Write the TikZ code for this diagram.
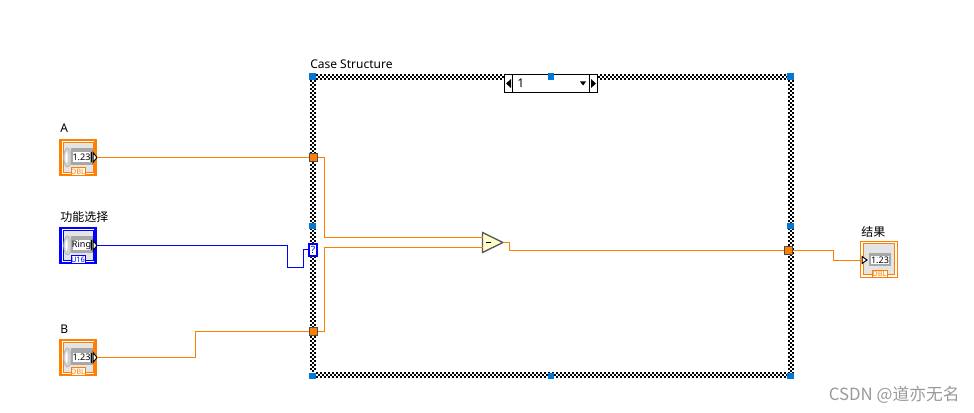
\documentclass[tikz,border=0pt]{standalone}
\usepackage{fontspec}
\setmainfont{Noto Sans}
\newfontfamily\cjk{Noto Sans CJK SC}
\definecolor{wireor}{HTML}{FF8000}
\definecolor{handle}{HTML}{0078D7}
\definecolor{panel}{HTML}{E4E4E4}
\definecolor{bezel}{HTML}{A8A8A8}
\definecolor{triangle}{HTML}{FFFFCC}
\definecolor{wmark}{HTML}{9A9A9A}
\tikzset{
  x=0.75pt,y=-0.75pt,
  lab/.style={anchor=west,inner sep=0pt,font=\fontsize{9}{11}\selectfont,text=black},
  cjklab/.style={anchor=west,inner sep=0pt,font=\cjk\fontsize{9}{11}\selectfont,text=black},
  termbox/.style={minimum width=28.5pt,minimum height=28.5pt,inner sep=0pt,outer sep=0pt},
  tunnel/.style={draw=black!70,line width=0.75pt,fill=wireor,minimum size=6.4pt,inner sep=0pt,outer sep=0pt},
  grip/.style={fill=handle,minimum size=4.9pt,inner sep=0pt},
  selq/.style={draw=blue,line width=1pt,fill=white,minimum width=6pt,minimum height=9pt,inner sep=0pt,outer sep=0pt,font=\fontsize{7.5}{7.5}\selectfont\bfseries,text=blue},
  orwire/.style={draw=wireor,line width=0.75pt},
  bluewire/.style={draw=blue,line width=0.75pt},
  band/.style={draw=black,line width=4.5pt},
  chk/.style={draw=white,line width=1.3pt,dash pattern=on 1.3pt off 1.7pt},
  pics/control/.style n args={3}{code={
    \draw[#1,line width=1.9pt,fill=white] (-17.5,-17.5) rectangle (17.5,17.5);
    \draw[#1,line width=0.75pt,fill=panel] (-15,-15) rectangle (15,15);
    \draw[#1,line width=0.75pt,fill=white] (-7,10) rectangle (7,18);
    \node[inner sep=0pt,font=\fontsize{5.6}{5.6}\selectfont\bfseries,text=#1] at (0,14.2) {#3};
    \fill[black!18,draw=black!30,line width=0.5pt] (-10.5,0) ellipse [x radius=3.8,y radius=9.5];
    \fill[white] (-11.5,0) ellipse [x radius=1.2,y radius=6];
    \fill[bezel] (-7,-9.5) rectangle (15,7.5);
    \fill[white] (-5,-5) rectangle (12,4.5);
    \draw[black,line width=0.75pt] (13,-5) -- (13,5);
    \node[inner sep=0pt,font=\fontsize{6.8}{6.8}\selectfont,text=black] at (3.5,-0.3) {#2};
    \draw[black,line width=0.75pt,fill=white] (15,-5) -- (19,0) -- (15,5) -- cycle;
  }},
  pics/indicator/.style n args={3}{code={
    \draw[#1,line width=0.9pt,fill=white] (-18.5,-18) rectangle (18.5,18);
    \draw[#1,line width=0.75pt,fill=panel] (-16,-15.5) rectangle (15,15.5);
    \draw[#1,line width=0.75pt,fill=white] (-7,11) rectangle (8,18);
    \node[inner sep=0pt,font=\fontsize{5.6}{5.6}\selectfont\bfseries,text=#1] at (0.5,14.7) {#3};
    \fill[bezel] (-10,-6) rectangle (12,7);
    \fill[white] (-8,-3.5) rectangle (10,4.5);
    \node[inner sep=0pt,font=\fontsize{6.8}{6.8}\selectfont,text=black] at (1,0.6) {#2};
    \draw[black,line width=0.75pt,fill=white] (-17,-3) -- (-12,0.5) -- (-17,4) -- cycle;
  }},
}
\begin{document}
\begin{tikzpicture}
\useasboundingbox[fill=white] (0,0) rectangle (974,413);

% case structure frame: black band with offset rows of white dots
\draw[band] (313,77) rectangle (791,375);
\foreach \o/\ph in {0/0pt,2/1.5pt,4/0pt}{
  \draw[chk,dash phase=\ph] (310,75+\o) -- (794,75+\o);
  \draw[chk,dash phase=\ph] (310,373+\o) -- (794,373+\o);
  \draw[chk,dash phase=\ph] (311+\o,74) -- (311+\o,378);
  \draw[chk,dash phase=\ph] (789+\o,74) -- (789+\o,378);
}
\node[lab] (title) at (310,64.5) {Case Structure};

% selector
\node[draw=black,line width=0.75pt,fill=white,minimum width=70pt,minimum height=13.8pt,inner sep=0pt] (sel) at (551,83.5) {};
\draw[black,line width=0.75pt] (512.5,74.5) -- (512.5,92.5) (589.5,74.5) -- (589.5,92.5);
\fill[black] (506,83.5) -- (511,79) -- (511,88) -- cycle;
\fill[black] (596,83.5) -- (591,79) -- (591,88) -- cycle;
\fill[black] (580,81.5) -- (586,81.5) -- (583,85.5) -- cycle;
\node[inner sep=0pt,anchor=west,font=\fontsize{9}{11}\selectfont,text=black] (case) at (517,83.5) {1};

% grips
\foreach \n/\px/\py in {g1/312.5/76.5,g2/551/76.5,g3/790.5/76.5,g4/312.5/226,g5/790.5/226,g6/312.5/376,g7/551/376,g8/790.5/376}{
  \node[grip] (\n) at (\px,\py) {};
}

% terminals
\node[termbox] (a) at (78,157.5) {};
\pic at (a) {control={wireor}{1.23}{DBL}};
\node[lab] (alab) at (60,128.5) {A};
\node[termbox] (ring) at (78,245.5) {};
\pic at (ring) {control={blue}{\bfseries Ring}{U16}};
\node[cjklab] (ringlab) at (60,216.5) {功能选择};
\node[termbox] (b) at (78,357.5) {};
\pic at (b) {control={wireor}{1.23}{DBL}};
\node[lab] (blab) at (60,329.5) {B};
\node[termbox] (res) at (879,259.5) {};
\pic at (res) {indicator={wireor}{1.23}{DBL}};
\node[cjklab] (reslab) at (861,231.5) {结果};
\coordinate (resin) at (862,260.5);

% tunnels
\node[tunnel] (ta) at (313.5,157.5) {};
\node[tunnel] (tb) at (313.5,331.5) {};
\node[tunnel] (tr) at (788.5,250.5) {};
\node[selq] (q) at (313,250) {?};

% subtract
\coordinate (s1) at (482.5,237.5);
\coordinate (s2) at (482.5,247.5);
\coordinate (sout) at (503,242.5);
\draw[line width=1pt,draw=black!65,fill=triangle] (482.5,232.5) -- (503,242.5) -- (482.5,252.5) -- cycle;
\draw[black,line width=0.75pt] (486,242.5) -- (491,242.5);

% wires
\draw[orwire] (a.east) -- (ta.west);
\draw[orwire] (ta.east) -- (324.5,157.5) |- (s1);
\draw[orwire] (b.east) -- (195.5,357.5) |- (tb.west);
\draw[orwire] (tb.east) -- (324.5,331.5) |- (s2);
\draw[orwire] (sout) -- (509.5,242.5) |- (tr.west);
\draw[orwire] (tr.east) -- (833.5,250.5) |- (resin);
\draw[bluewire] (ring.east) -- (287.5,245.5) |- (303.5,267.5) |- (q.west);

% watermark
\node[anchor=east,inner sep=0pt,font=\cjk\fontsize{12.6}{14}\selectfont,text=wmark] (wm) at (960,394.5) {CSDN @道亦无名};
\end{tikzpicture}
\end{document}
